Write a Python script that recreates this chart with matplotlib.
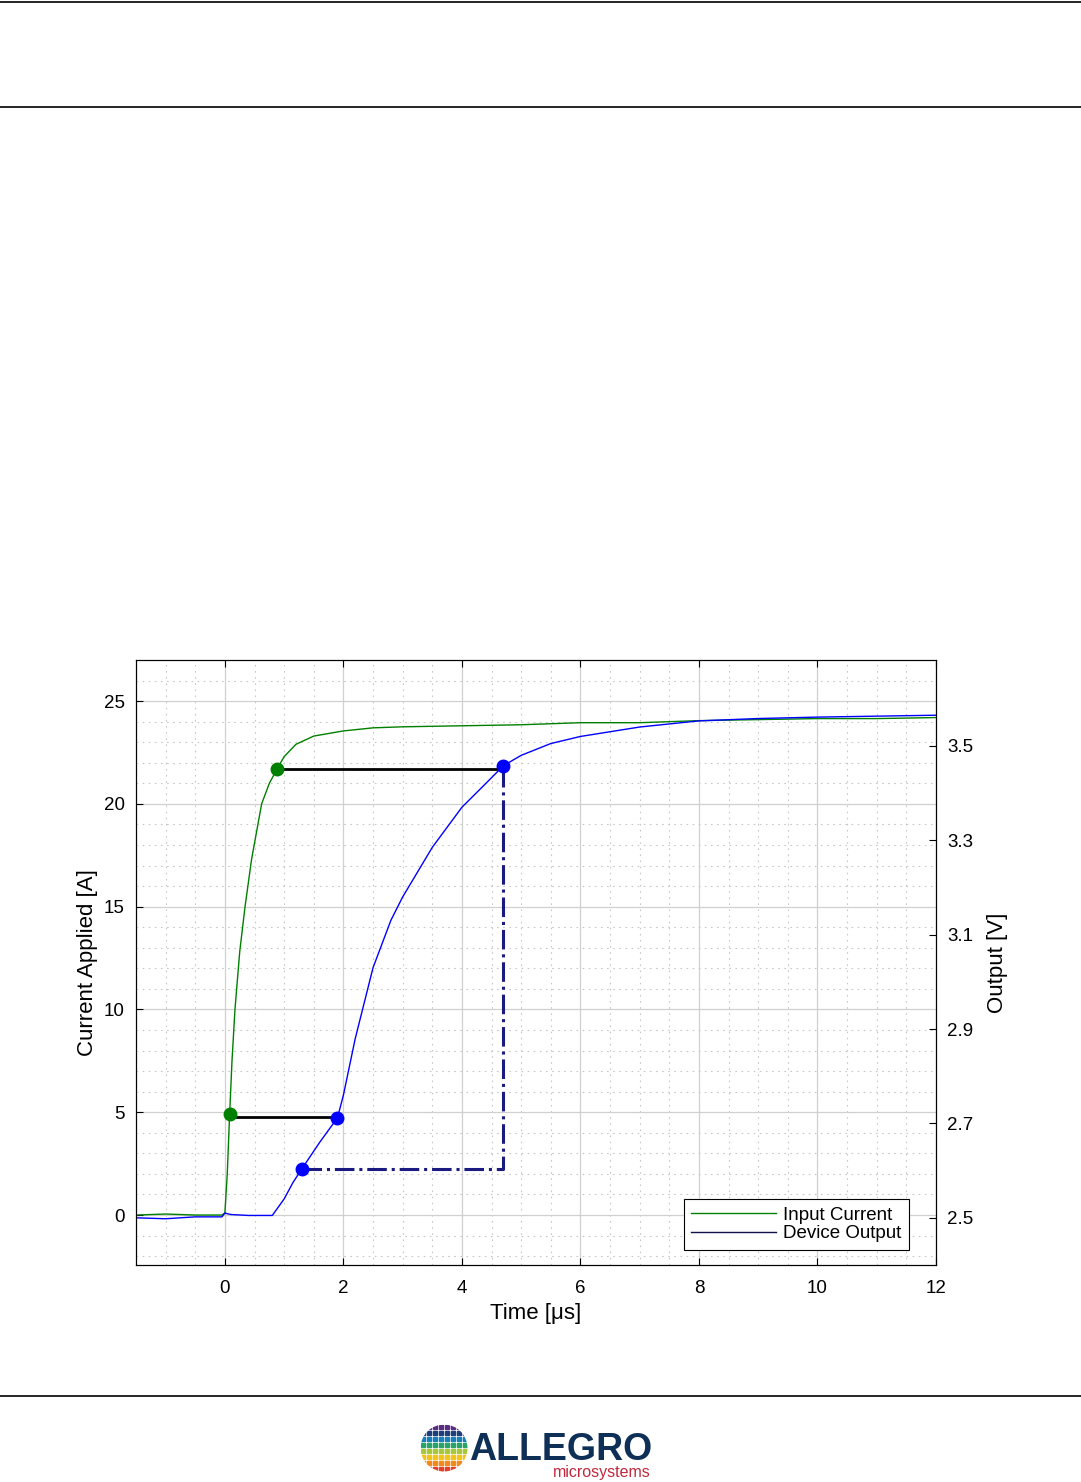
import matplotlib
matplotlib.use("Agg")
import matplotlib.pyplot as plt
from matplotlib.patches import Rectangle, Circle
import numpy as np

plt.rcParams['font.family'] = ['Liberation Sans', 'DejaVu Sans']

# input current (left axis, A)
t_cur = [-1.5, -1.0, -0.5, -0.05, 0.0, 0.04, 0.08, 0.12, 0.17, 0.25, 0.34, 0.45, 0.62, 0.75, 0.88,
         1.0, 1.2, 1.5, 2.0, 2.5, 3.0, 4.0, 5.0, 6.0, 7.0, 8.0, 9.0, 10.0, 11.0, 12.0]
i_cur = [0.0, 0.05, 0.0, 0.0, 0.1, 2.0, 4.9, 7.5, 10.0, 12.8, 15.0, 17.3, 20.0, 21.0, 21.7,
         22.3, 22.9, 23.3, 23.55, 23.7, 23.75, 23.8, 23.85, 23.95, 23.95, 24.05, 24.1, 24.15, 24.15, 24.2]

# device output (right axis, V)
t_out = [-1.5, -1.0, -0.5, -0.05, 0.0, 0.1, 0.4, 0.8, 1.0, 1.15, 1.3, 1.6, 1.9, 2.0, 2.2, 2.5,
         2.8, 3.0, 3.5, 4.0, 4.4, 4.7, 5.0, 5.5, 6.0, 7.0, 8.0, 9.0, 10.0, 11.0, 12.0]
v_out = [2.5, 2.498, 2.502, 2.502, 2.51, 2.507, 2.505, 2.505, 2.54, 2.575, 2.604, 2.66, 2.712, 2.76, 2.88, 3.03,
         3.13, 3.18, 3.285, 3.37, 3.42, 3.458, 3.48, 3.505, 3.52, 3.54, 3.553, 3.558, 3.561, 3.563, 3.565]

fig = plt.figure(figsize=(10.81, 14.82), dpi=100)

# page header / footer rules
for yy in [1 - 2 / 1482, 1 - 107 / 1482, 1 - 1396 / 1482]:
    fig.add_artist(plt.Line2D([0, 1], [yy, yy], color='black', lw=1.2))

ax = fig.add_axes([136 / 1081, 217 / 1482, 800 / 1081, 605 / 1482])
ax2 = ax.twinx()

ax.set_xlim(-1.5, 12)
ax.set_ylim(-2.43, 27.0)
ax2.set_ylim(2.40, 3.682)

ax.set_xticks([0, 2, 4, 6, 8, 10, 12])
ax.set_xticks(np.arange(-1.5, 12.01, 0.5), minor=True)
ax.set_yticks([0, 5, 10, 15, 20, 25])
ax.set_yticks(np.arange(-2, 27, 1), minor=True)
ax2.set_yticks([2.5, 2.7, 2.9, 3.1, 3.3, 3.5])
ax2.set_yticklabels(['2.5', '2.7', '2.9', '3.1', '3.3', '3.5'])
ax.grid(which='major', color='#d0d0d0', lw=0.9)
ax.grid(which='minor', color='#c8c8c8', lw=0.8, ls=(0, (1.5, 4)))
ax.tick_params(which='minor', length=0)
ax.tick_params(which='major', direction='in', length=5, labelsize=13.5, pad=8)
ax.tick_params(axis='x', pad=11)
ax2.tick_params(direction='in', length=5, labelsize=13.5, pad=8)
ax.tick_params(top=True)

l1, = ax.plot(t_cur, i_cur, color='green', lw=1.0, label='Input Current')
l2, = ax2.plot(t_out, v_out, color='blue', lw=1.0, label='Device Output')

# rise-time annotations
ax.plot([0.08, 1.9], [4.75, 4.75], color='black', lw=2)
ax.plot([0.88, 4.7], [21.7, 21.7], color='black', lw=2)
ax2.plot([1.3, 4.7, 4.7], [2.604, 2.604, 3.458], color='#1a1a80', lw=2.2, ls='-.')
ax.plot([0.08, 0.88], [4.9, 21.7], 'o', color='green', ms=9, ls='none')
ax2.plot([1.3, 1.9, 4.7], [2.604, 2.712, 3.458], 'o', color='blue', ms=9, ls='none')

ax.set_xlabel('Time [μs]', fontsize=16, labelpad=4)
ax.set_ylabel('Current Applied [A]', fontsize=16)
ax2.set_ylabel('Output [V]', fontsize=16, labelpad=10)

leg = ax.legend([l1, l2], ['Input Current', 'Device Output'], loc='lower right', fontsize=13.5,
                fancybox=False, edgecolor='black', framealpha=1, borderaxespad=0.8,
                handlelength=4.5, handletextpad=0.4, labelspacing=0.1, bbox_to_anchor=(0.985, 0.0))
leg.get_frame().set_linewidth(0.8)
leg.get_lines()[1].set_color('#10104a')
ax2.set_zorder(ax.get_zorder() + 1)
ax.patch.set_visible(True)
ax2.patch.set_visible(False)

# logo
lax = fig.add_axes([420 / 1081, 10 / 1482, 48 / 1081, 48 / 1482])
lax.set_xlim(0, 8); lax.set_ylim(0, 8); lax.axis('off')
rows = ['#5b2d82', '#1f3f7a', '#1a7fb8', '#2aa36a', '#a6c83a', '#f2c318', '#f08a1c', '#e0422a', '#b01e3c']
clip = Circle((4, 4), 3.9, transform=lax.transData)
for r in range(8):
    for c in range(8):
        sq = Rectangle((c + 0.1, 7 - r + 0.1), 0.8, 0.8, color=rows[r])
        sq.set_clip_path(clip)
        lax.add_patch(sq)
fig.text(469 / 1081, 1 - 1450 / 1482, 'ALLEGRO', fontsize=27, fontweight='bold', color='#0e2f56',
         va='center', ha='left')
fig.text(553 / 1081, 1 - 1473 / 1482, 'microsystems', fontsize=11.5, color='#c0283c', va='center', ha='left')

fig.savefig('out.png', dpi=100)
